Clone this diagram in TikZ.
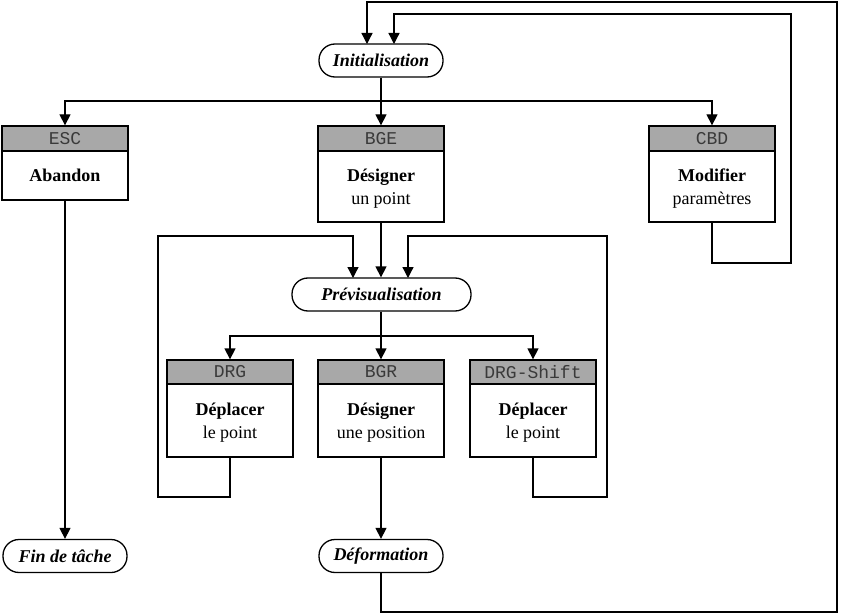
\documentclass[tikz,border=0pt]{standalone}
\usepackage{fontspec}
\setmainfont{Liberation Serif}
\setmonofont{Liberation Mono}
\usetikzlibrary{arrows.meta}
\definecolor{hdrgray}{HTML}{A8A8A8}
\definecolor{hdrtext}{HTML}{3A3A3A}
\begin{document}
\begin{tikzpicture}[x=1pt,y=-1pt,
  ln/.style={line width=1.3pt},
  arr/.style={line width=1.3pt,-{Triangle[length=11pt,width=11pt]}},
  hdr/.style={draw,line width=1.3pt,fill=hdrgray,minimum width=126pt,minimum height=25pt,inner sep=0pt,font=\fontsize{18}{20}\selectfont\ttfamily,text=hdrtext},
  body/.style={draw,line width=1.3pt,minimum width=126pt,inner sep=0pt,align=center,text depth=0pt,font=\fontsize{18}{23}\selectfont},
  pill/.style={draw,line width=1.3pt,rounded corners=16pt,minimum height=33pt,minimum width=124pt,inner sep=0pt,font=\fontsize{18}{20}\selectfont\bfseries\itshape}]
\useasboundingbox (0,0) rectangle (841,615);

% terminal nodes
\node[pill] (init) at (381,60.5) {Initialisation};
\node[pill,minimum width=179pt] (prev) at (381.5,294.5) {Prévisualisation};
\node[pill] (fin) at (65,556) {Fin de tâche};
\node[pill] (def) at (381,556) {Déformation};

% first row boxes
\node[hdr] (esch) at (65,138.5) {ESC};
\node[body,minimum height=49pt] (esc) at (65,175.5) {\textbf{Abandon}};
\node[hdr] (bgeh) at (381,138.5) {BGE};
\node[body,minimum height=71pt] (bge) at (381,186.5) {\textbf{Désigner}\\un point};
\node[hdr] (cbdh) at (712,138.5) {CBD};
\node[body,minimum height=71pt] (cbd) at (712,186.5) {\textbf{Modifier}\\paramètres};

% second row boxes
\node[hdr,minimum height=24pt] (drgh) at (230,372) {DRG};
\node[body,minimum height=73pt] (drg) at (230,420.5) {\textbf{Déplacer}\\le point};
\node[hdr,minimum height=24pt] (bgrh) at (381,372) {BGR};
\node[body,minimum height=73pt] (bgr) at (381,420.5) {\textbf{Désigner}\\une position};
\node[hdr,minimum height=24pt] (drgsh) at (533,372) {DRG-Shift};
\node[body,minimum height=73pt] (drgs) at (533,420.5) {\textbf{Déplacer}\\le point};

% coordinates
\coordinate (j1) at (381,101);
\coordinate (j2) at (381,336);
\coordinate (l1) at (230,497);
\coordinate (l2) at (158,497);
\coordinate (l3) at (158,236);
\coordinate (p1) at (353,278);
\coordinate (r1) at (533,497);
\coordinate (r2) at (607,497);
\coordinate (r3) at (607,236);
\coordinate (p3) at (408,278);
\coordinate (c1) at (712,263);
\coordinate (c2) at (791,263);
\coordinate (c3) at (791,14);
\coordinate (i2) at (394,44);
\coordinate (d1) at (381,612);
\coordinate (d2) at (837,612);
\coordinate (d3) at (837,2);
\coordinate (i1) at (367,44);

% connectors
\draw[ln] (init.south) -- (j1);
\draw[arr] (j1) -| (esch.north);
\draw[arr] (j1) -- (bgeh.north);
\draw[arr] (j1) -| (cbdh.north);
\draw[arr] (esc.south) -- (fin.north);
\draw[arr] (bge.south) -- (prev.north -| bge.south);
\draw[ln] (prev.south -| init.south) -- (j2);
\draw[arr] (j2) -| (drgh.north);
\draw[arr] (j2) -- (bgrh.north);
\draw[arr] (j2) -| (drgsh.north);
\draw[arr] (bgr.south) -- (def.north);
\draw[arr] (drg.south) -- (l1) -- (l2) -- (l3) -| (p1);
\draw[arr] (drgs.south) -- (r1) -- (r2) -- (r3) -| (p3);
\draw[arr] (cbd.south) -- (c1) -- (c2) -- (c3) -| (i2);
\draw[arr] (def.south) -- (d1) -- (d2) -- (d3) -| (i1);
\end{tikzpicture}
\end{document}
